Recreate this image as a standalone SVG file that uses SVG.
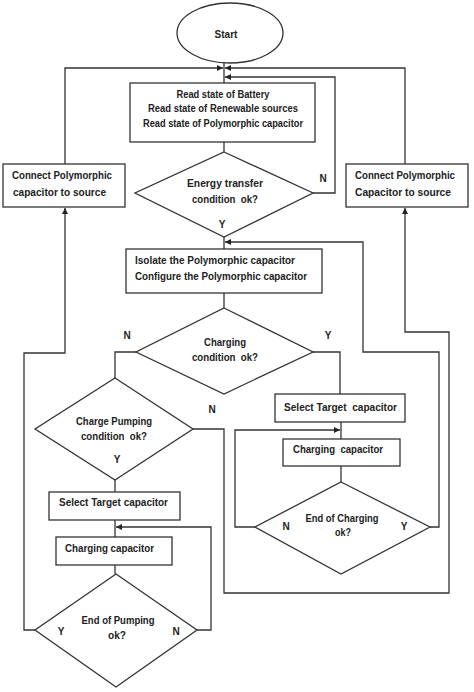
<svg xmlns="http://www.w3.org/2000/svg" width="474" height="692" viewBox="0 0 474 692">
<defs>
<marker id="arr" markerWidth="6" markerHeight="6" refX="6" refY="3" orient="auto" markerUnits="userSpaceOnUse">
<path d="M0,0 L6,3 L0,6 z" fill="#222"/>
</marker>
<style>
.s{fill:#fff;stroke:#333;stroke-width:1.3}
.c{fill:none;stroke:#333;stroke-width:1.3}
.t{font-family:"Liberation Sans",Arial,sans-serif;font-size:10px;font-weight:bold;fill:#222;white-space:pre}
.m{text-anchor:middle}
</style>
</defs>
<rect width="474" height="692" fill="#fff"/>
<g id="connectors">
<path class="c" d="M224,62 V83"/>
<path class="c" d="M65,164 V68 H223" marker-end="url(#arr)"/>
<path class="c" d="M405,164 V68 H225" marker-end="url(#arr)"/>
<path class="c" d="M313,193 H335 V77 H225" marker-end="url(#arr)"/>
<path class="c" d="M224,142 V152"/>
<path class="c" d="M224,237 V249"/>
<path class="c" d="M224,293 V308"/>
<path class="c" d="M136,352 H115 V378"/>
<path class="c" d="M313,352 H340 V394"/>
<path class="c" d="M341,422 V439"/>
<path class="c" d="M341,466 V482"/>
<path class="c" d="M255,527 H235 V430 H340" marker-end="url(#arr)"/>
<path class="c" d="M430,527 H439 V352 H363 V242 H225" marker-end="url(#arr)"/>
<path class="c" d="M193,429 H224 V593 H449 V332 H405 V208" marker-end="url(#arr)"/>
<path class="c" d="M115,480 V492"/>
<path class="c" d="M115,520 V537"/>
<path class="c" d="M115,565 V574"/>
<path class="c" d="M197,630 H211 V527 H116" marker-end="url(#arr)"/>
<path class="c" d="M35,630 H24 V353 H65 V208" marker-end="url(#arr)"/>
</g>
<g id="start">
<ellipse class="s" cx="230" cy="33" rx="53" ry="30"/>
<text class="t m" x="226" y="38" font-size="10.5">Start</text>
</g>
<g id="read">
<rect class="s" x="130" y="83" width="185" height="59"/>
<text class="t m" x="223" y="98" textLength="93" lengthAdjust="spacingAndGlyphs">Read state of Battery</text>
<text class="t m" x="223" y="112" textLength="150" lengthAdjust="spacingAndGlyphs">Read state of Renewable sources</text>
<text class="t m" x="223" y="127" textLength="160" lengthAdjust="spacingAndGlyphs">Read state of Polymorphic capacitor</text>
</g>
<g id="energy">
<polygon class="s" points="224,152 313,193 224,237 135,193"/>
<text class="t m" x="225" y="187" textLength="76" lengthAdjust="spacingAndGlyphs">Energy transfer</text>
<text class="t m" x="225" y="203" textLength="66" lengthAdjust="spacingAndGlyphs">condition  ok?</text>
<text class="t m" x="222" y="228">Y</text>
<text class="t m" x="323" y="182">N</text>
</g>
<g id="connect-left">
<rect class="s" x="3" y="164" width="122" height="43"/>
<text class="t" x="12" y="179" textLength="100" lengthAdjust="spacingAndGlyphs">Connect Polymorphic</text>
<text class="t" x="13" y="196" textLength="93" lengthAdjust="spacingAndGlyphs">capacitor to source</text>
</g>
<g id="connect-right">
<rect class="s" x="346" y="164" width="122" height="43"/>
<text class="t" x="355" y="179" textLength="100" lengthAdjust="spacingAndGlyphs">Connect Polymorphic</text>
<text class="t" x="355" y="196" textLength="96" lengthAdjust="spacingAndGlyphs">Capacitor to source</text>
</g>
<g id="isolate">
<rect class="s" x="126" y="249" width="196" height="44"/>
<text class="t" x="135" y="264" textLength="160" lengthAdjust="spacingAndGlyphs">Isolate the Polymorphic capacitor</text>
<text class="t" x="135" y="280" textLength="172" lengthAdjust="spacingAndGlyphs">Configure the Polymorphic capacitor</text>
</g>
<g id="charging-cond">
<polygon class="s" points="224,308 313,352 224,394 136,352"/>
<text class="t m" x="225" y="346" textLength="42" lengthAdjust="spacingAndGlyphs">Charging</text>
<text class="t m" x="225" y="361" textLength="66" lengthAdjust="spacingAndGlyphs">condition  ok?</text>
<text class="t m" x="127" y="339">N</text>
<text class="t m" x="328" y="339">Y</text>
</g>
<g id="pumping-cond">
<polygon class="s" points="115,378 193,429 115,480 35,429"/>
<text class="t m" x="114" y="425" textLength="76" lengthAdjust="spacingAndGlyphs">Charge Pumping</text>
<text class="t m" x="114" y="440" textLength="66" lengthAdjust="spacingAndGlyphs">condition  ok?</text>
<text class="t m" x="117" y="463">Y</text>
<text class="t m" x="212" y="413">N</text>
</g>
<g id="select-right">
<rect class="s" x="275" y="394" width="130" height="28"/>
<text class="t" x="284" y="411" textLength="113" lengthAdjust="spacingAndGlyphs">Select Target  capacitor</text>
</g>
<g id="charging-right">
<rect class="s" x="283" y="439" width="117" height="27"/>
<text class="t" x="293" y="453" textLength="90" lengthAdjust="spacingAndGlyphs">Charging  capacitor</text>
</g>
<g id="end-charging">
<polygon class="s" points="341,482 430,527 341,574 255,527"/>
<text class="t m" x="342" y="522" textLength="73" lengthAdjust="spacingAndGlyphs">End of Charging</text>
<text class="t m" x="343" y="536" textLength="16" lengthAdjust="spacingAndGlyphs">ok?</text>
<text class="t m" x="286" y="530">N</text>
<text class="t m" x="404" y="530">Y</text>
</g>
<g id="select-left">
<rect class="s" x="49" y="492" width="131" height="28"/>
<text class="t" x="59" y="506" textLength="109" lengthAdjust="spacingAndGlyphs">Select Target capacitor</text>
</g>
<g id="charging-left">
<rect class="s" x="56" y="537" width="116" height="28"/>
<text class="t" x="65" y="552" textLength="89" lengthAdjust="spacingAndGlyphs">Charging capacitor</text>
</g>
<g id="end-pumping">
<polygon class="s" points="116,574 197,630 116,687 35,630"/>
<text class="t m" x="118" y="624" textLength="73" lengthAdjust="spacingAndGlyphs">End of Pumping</text>
<text class="t m" x="117" y="639" textLength="18" lengthAdjust="spacingAndGlyphs">ok?</text>
<text class="t m" x="61" y="635">Y</text>
<text class="t m" x="176" y="635">N</text>
</g>
</svg>
